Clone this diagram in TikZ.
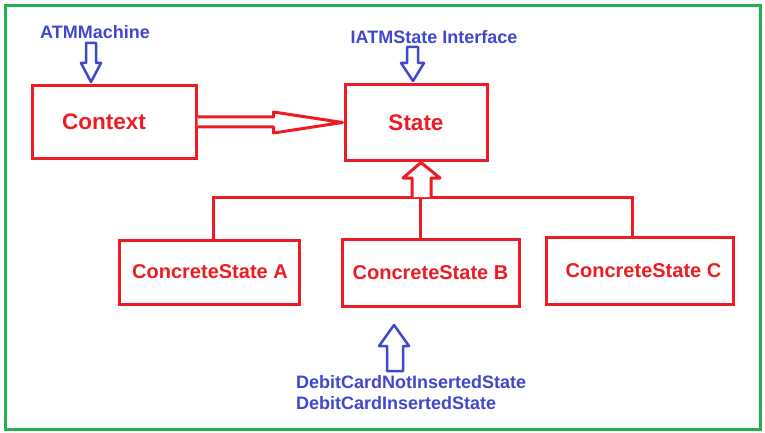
\documentclass[tikz,border=0pt]{standalone}
\usepackage{fontspec}
\setmainfont{Liberation Sans}
\usetikzlibrary{calc}
\definecolor{pred}{HTML}{ED1C24}
\definecolor{pblue}{HTML}{3F48CC}
\definecolor{pgreen}{HTML}{22B14C}
\begin{document}
\begin{tikzpicture}[x=1pt,y=-1pt,
  box/.style={draw=pred, line width=3pt, fill=white, text=pred, font=\bfseries\fontsize{20}{24}\selectfont, inner sep=0pt},
  bigbox/.style={box, font=\bfseries\fontsize{22.5}{26}\selectfont},
  note/.style={text=pblue, font=\bfseries\fontsize{18}{21}\selectfont, inner sep=0pt},
  hollow/.style={draw=pred, line width=3pt, fill=white, line join=round},
  bluearrow/.style={draw=pblue, line width=2.5pt, fill=white, line join=round},
  link/.style={draw=pred, line width=3pt}]
\useasboundingbox (0,0) rectangle (765,433);
\draw[pgreen, line width=3pt] (5,6) rectangle (760,429);

\node[bigbox, minimum width=164pt, minimum height=72pt] (ctx) at (114,122) {\hspace*{-20pt}Context};
\node[bigbox, minimum width=142pt, minimum height=75pt] (st) at (416,122.5) {State};
\node[box, minimum width=180pt, minimum height=64pt] (ca) at (209,272) {\hspace*{2pt}ConcreteState A};
\node[box, minimum width=177pt, minimum height=67pt] (cb) at (430.5,272.5) {ConcreteState B};
\node[box, minimum width=187pt, minimum height=67pt] (cc) at (639.5,270.5) {\hspace*{8pt}ConcreteState C};

\node[note] (atm) at (95,32) {ATMMachine};
\node[note] (iatm) at (434,37) {IATMState Interface};
\node[note, align=left, anchor=north west] (debit) at (296,375) {DebitCardNotInsertedState\\[0pt]DebitCardInsertedState};

% Context -> State hollow arrow
\coordinate (cs) at (ctx.east);
\draw[hollow] ($(cs)+(0,-5)$) -- ++(76,0) -- ++(0,-5) -- ($(st.west)+(-1,0)$) -- ($(cs)+(76,11)$) -- ++(0,-6) -- ++(-76,0);

% bus
\coordinate (bus) at (420,197);
\coordinate (ja) at ($(ca.north)+(4,0)$);
\coordinate (jc) at ($(cc.north)+(-7.5,0)$);
\draw[link] (ja) -- (ja |- bus) -- (jc |- bus) -- (jc);
\draw[link] (cb.north -| bus) -- (bus);

% hollow inheritance arrow
\coordinate (tip) at ($(st.south)+(5,1)$);
\draw[hollow] (412,197) -- (412,178) -- (403,178) -- (tip) -- (440,178) -- (431,178) -- (431,197);

% blue arrows
\draw[bluearrow] (86,43) -- (96,43) -- (96,63) -- (101,63) -- (91,82) -- (81,63) -- (86,63) -- cycle;
\draw[bluearrow] (407,47) -- (418,47) -- (418,63) -- (424,63) -- (413,81) -- (401,63) -- (407,63) -- cycle;
\draw[bluearrow] (387,371) -- (403,371) -- (403,346) -- (409,346) -- (394,325) -- (379,346) -- (387,346) -- cycle;
\end{tikzpicture}
\end{document}
